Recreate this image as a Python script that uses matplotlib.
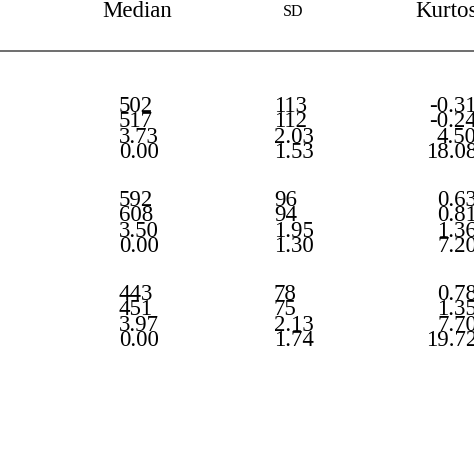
import matplotlib
matplotlib.use("Agg")
import matplotlib.pyplot as plt

medians = [["502", "517", "3.73", "0.00"], ["592", "608", "3.50", "0.00"], ["443", "451", "3.97", "0.00"]]
sds = [["113", "112", "2.03", "1.53"], ["96", "94", "1.95", "1.30"], ["78", "75", "2.13", "1.74"]]
kurt = [["-0.31", "-0.24", "4.50", "18.08"], ["0.63", "0.81", "1.36", "7.20"], ["0.78", "1.35", "7.70", "19.72"]]

W = H = 474
fig = plt.figure(figsize=(4.74, 4.74), dpi=100)
ax = fig.add_axes([0, 0, 1, 1])
ax.set_xlim(0, W); ax.set_ylim(H, 0); ax.axis("off")
fs = 16.5
fam = "Liberation Serif"
ax.text(137, 11, "Median", ha="center", va="center", fontsize=fs, family=fam)
ax.text(293, 12, "SD", ha="center", va="center", fontsize=fs*0.7, family=fam)
ax.text(415, 11, "Kurtosis", ha="left", va="center", fontsize=fs, family=fam, clip_on=True)
ax.plot([0, W], [51, 51], color="#555555", lw=1.2)
group_y = [106, 200, 294]
dy = 15.6
for g in range(3):
    for i in range(4):
        y = group_y[g] + i * dy
        ax.text(119, y, medians[g][i], ha="left", va="center", fontsize=fs, family=fam)
        ax.text(274, y, sds[g][i], ha="left", va="center", fontsize=fs, family=fam)
        ax.text(477, y, kurt[g][i], ha="right", va="center", fontsize=fs, family=fam, clip_on=True)
fig.savefig("out.png", dpi=100)
